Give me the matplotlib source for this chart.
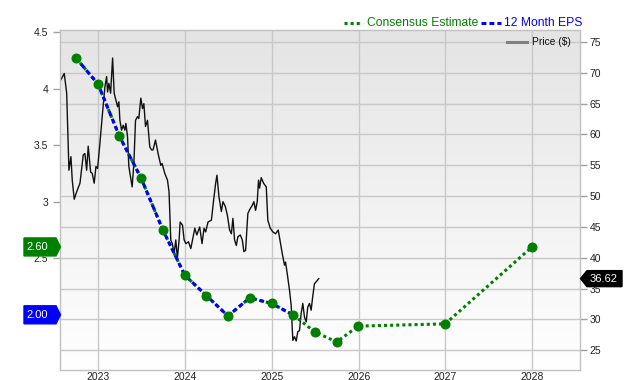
import numpy as np
import pandas as pd
import matplotlib
matplotlib.use("Agg")
import matplotlib.pyplot as plt
from matplotlib.patches import Polygon
from matplotlib.lines import Line2D

plt.rcParams['font.family'] = ['Liberation Sans', 'DejaVu Sans']

# ---------------- data ----------------
eps_dates = ['2022-09-30', '2022-12-31', '2023-03-31', '2023-06-30', '2023-09-30',
             '2023-12-31', '2024-03-31', '2024-06-30', '2024-09-30', '2024-12-31',
             '2025-03-31']
eps_values = [4.27, 4.04, 3.58, 3.21, 2.75, 2.35, 2.17, 1.99, 2.15, 2.10, 2.00]

est_dates = ['2025-06-30', '2025-09-30', '2025-12-31', '2026-12-31', '2027-12-31']
est_values = [1.85, 1.76, 1.90, 1.92, 2.60]

price_years = [2022.571, 2022.609, 2022.637, 2022.663, 2022.686, 2022.701, 2022.724,
               2022.752, 2022.790, 2022.828, 2022.847, 2022.867, 2022.885, 2022.913,
               2022.931, 2022.954, 2022.974, 2022.993, 2023.020, 2023.046, 2023.077,
               2023.097, 2023.108, 2023.123, 2023.143, 2023.166, 2023.184, 2023.204,
               2023.223, 2023.238, 2023.250, 2023.269, 2023.288, 2023.307, 2023.319,
               2023.338, 2023.353, 2023.373, 2023.391, 2023.411, 2023.430, 2023.453,
               2023.468, 2023.491, 2023.511, 2023.526, 2023.545, 2023.568, 2023.594,
               2023.614, 2023.632, 2023.660, 2023.690, 2023.721, 2023.736, 2023.767,
               2023.798, 2023.816, 2023.830, 2023.836, 2023.854, 2023.874, 2023.894,
               2023.912, 2023.932, 2023.944, 2023.971, 2023.990, 2024.010, 2024.040,
               2024.067, 2024.086, 2024.113, 2024.136, 2024.169, 2024.196, 2024.219,
               2024.238, 2024.265, 2024.304, 2024.330, 2024.353, 2024.368, 2024.391,
               2024.419, 2024.437, 2024.465, 2024.488, 2024.514, 2024.534, 2024.552,
               2024.571, 2024.591, 2024.609, 2024.637, 2024.660, 2024.678, 2024.698,
               2024.724, 2024.752, 2024.775, 2024.793, 2024.813, 2024.832, 2024.847,
               2024.859, 2024.878, 2024.905, 2024.936, 2024.954, 2024.982, 2025.012,
               2025.043, 2025.074, 2025.097, 2025.120, 2025.146, 2025.158, 2025.177,
               2025.204, 2025.223, 2025.242, 2025.261, 2025.281, 2025.299, 2025.319,
               2025.338, 2025.357, 2025.376, 2025.396, 2025.414, 2025.434, 2025.453,
               2025.471, 2025.491, 2025.511, 2025.540]
price_values = [68.9, 69.9, 66.7, 54.2, 56.4, 52.6, 49.5,
                50.7, 52.1, 56.7, 56.9, 54.2, 58.1, 53.9,
                53.7, 52.1, 54.8, 54.5, 58.6, 62.9, 67.7,
                69.4, 66.9, 68.3, 66.7, 72.4, 66.7, 65.6,
                64.5, 65.3, 62.3, 60.7, 61.5, 60.7, 61.8,
                59.6, 54.8, 53.1, 51.5, 55.3, 62.3, 62.9,
                62.6, 65.9, 64.2, 65.0, 61.3, 62.3, 58.0,
                57.5, 57.5, 59.1, 56.9, 55.0, 55.3, 53.7,
                52.6, 50.7, 45.5, 42.9, 42.3, 40.7, 42.9,
                39.9, 42.9, 45.8, 45.3, 42.9, 42.3, 42.6,
                41.5, 42.9, 44.8, 43.7, 45.0, 42.3, 44.8,
                44.2, 45.8, 46.1, 49.4, 52.1, 53.4, 49.9,
                47.5, 49.1, 48.3, 46.9, 44.5, 43.9, 46.4,
                42.9, 42.0, 43.4, 43.7, 42.9, 41.0, 41.2,
                47.2, 48.0, 48.5, 49.1, 47.7, 49.1, 52.6,
                51.3, 53.0, 52.1, 51.5, 46.1, 44.8, 44.2,
                43.9, 44.5, 42.6, 40.7, 38.8, 39.3, 37.5,
                34.7, 32.3, 26.6, 27.2, 26.5, 28.0, 28.2,
                31.0, 32.6, 30.4, 29.6, 32.0, 32.6, 31.5,
                33.7, 35.8, 36.1, 36.62]

x_ticks = [2023, 2024, 2025, 2026, 2027, 2028]
x_ticklabels = ['2023', '2024', '2025', '2026', '2027', '2028']
eps_ticks = [2.0, 2.5, 3.0, 3.5, 4.0, 4.5]
eps_ticklabels = ['2', '2.5', '3', '3.5', '4', '4.5']
price_ticks = [25, 30, 35, 40, 45, 50, 55, 60, 65, 70, 75]
price_ticklabels = ['25', '30', '35', '40', '45', '50', '55', '60', '65', '70', '75']

last_eps_label = '2.00'
last_est_label = '2.60'
last_price_label = '36.62'


def to_year(s):
    ts = pd.Timestamp(s)
    start = pd.Timestamp(year=ts.year, month=1, day=1)
    end = pd.Timestamp(year=ts.year + 1, month=1, day=1)
    return ts.year + (ts - start) / (end - start)


eps_x = [to_year(d) for d in eps_dates]
est_x = [to_year(d) for d in est_dates]

# ---------------- figure ----------------
W, H = 640, 380
fig = plt.figure(figsize=(W / 100, H / 100), dpi=100)
pos = [60 / W, 10 / H, 520 / W, 340 / H]

XLIM = (2022.56, 2028.55)
EPS_LIM = (1.512, 4.518)
PRICE_LIM = (21.8, 76.95)

GREEN = '#008000'
BLUE = '#0000ff'
GRID = '#c8c8c8'
TXT = '#222222'

# background with gradient and grid
bg = fig.add_axes(pos, zorder=0)
grad = np.linspace(0, 1, 256).reshape(-1, 1)
bg.imshow(grad, extent=[0, 1, 0, 1], transform=bg.transAxes, aspect='auto',
          cmap=matplotlib.colors.LinearSegmentedColormap.from_list(
              'g', ['#ffffff', '#e4e4e4']), origin='lower', zorder=0)
bg.set_xlim(*XLIM)
bg.set_ylim(*PRICE_LIM)
bg.set_xticks(x_ticks)
bg.set_yticks(price_ticks)
bg.grid(True, color=GRID, lw=1.0)
bg.tick_params(length=0, labelbottom=False, labelleft=False)
for s in bg.spines.values():
    s.set_visible(False)

# price axes (right)
ax2 = fig.add_axes(pos, zorder=1)
ax2.patch.set_visible(False)
ax2.plot(price_years, price_values, color='#111111', lw=1.0)
ax2.set_xlim(*XLIM)
ax2.set_ylim(*PRICE_LIM)
ax2.yaxis.tick_right()
ax2.set_yticks(price_ticks)
ax2.set_yticklabels(price_ticklabels)
ax2.tick_params(axis='y', length=5, width=1, color='#a0a0a0', pad=2,
                labelsize=7.5, labelcolor=TXT)
ax2.xaxis.set_visible(False)
for s in ax2.spines.values():
    s.set_visible(False)

# EPS axes (left)
ax = fig.add_axes(pos, zorder=2)
ax.patch.set_visible(False)
all_x = eps_x + est_x
all_v = eps_values + est_values
ax.plot(all_x, all_v, color=GREEN, lw=2.2, dashes=(1, 1), zorder=2)
ax.plot(eps_x, eps_values, color=BLUE, lw=2.2, dashes=(1.6, 1.0), zorder=3)
ax.plot(all_x, all_v, ls='none', marker='o', ms=6.2, color=GREEN,
        markeredgecolor=GREEN, zorder=4)
ax.set_xlim(*XLIM)
ax.set_ylim(*EPS_LIM)
ax.set_xticks(x_ticks)
ax.set_xticklabels(x_ticklabels)
ax.set_yticks(eps_ticks)
ax.set_yticklabels(eps_ticklabels)
ax.tick_params(axis='y', length=5, width=1, color='#a0a0a0', pad=3.5,
               labelsize=7.5, labelcolor=TXT)
ax.tick_params(axis='x', length=0, pad=1.5, labelsize=7.5, labelcolor=TXT)
for s in ax.spines.values():
    s.set_color('#c0c0c0')
    s.set_linewidth(1.0)


# ---------------- badges ----------------
def fx(px):
    return px / W


def fy(py):
    return py / H


def badge_left(yval, text, color):
    yc = ax.transData.transform((XLIM[0], yval))[1]
    pts = [(24, yc - 9), (56, yc - 9), (60.5, yc), (56, yc + 9), (24, yc + 9)]
    fig.add_artist(Polygon([(fx(a), fy(b)) for a, b in pts], closed=True,
                           transform=fig.transFigure, facecolor=color,
                           edgecolor=color, zorder=10))
    fig.text(fx(26.5), fy(yc), text, color='white', fontsize=8,
             ha='left', va='center', zorder=11)


def badge_right(yval, text, color):
    yc = ax2.transData.transform((XLIM[1], yval))[1]
    pts = [(580.5, yc), (587, yc - 8), (622, yc - 8), (622, yc + 8), (587, yc + 8)]
    fig.add_artist(Polygon([(fx(a), fy(b)) for a, b in pts], closed=True,
                           transform=fig.transFigure, facecolor=color,
                           edgecolor=color, zorder=10))
    fig.text(fx(603.5), fy(yc), text, color='white', fontsize=8,
             ha='center', va='center', zorder=11)


badge_left(est_values[-1], last_est_label, GREEN)
badge_left(eps_values[-1], last_eps_label, BLUE)
badge_right(price_values[-1], last_price_label, '#000000')

# ---------------- legend ----------------
ly = H - 23
fig.add_artist(Line2D([fx(344), fx(362)], [fy(ly), fy(ly)], transform=fig.transFigure,
                      color=GREEN, lw=2.2, dashes=(1, 1)))
fig.text(fx(367), fy(ly), 'Consensus Estimate', color=GREEN, fontsize=8.7,
         ha='left', va='center')
fig.add_artist(Line2D([fx(481), fx(501)], [fy(ly), fy(ly)], transform=fig.transFigure,
                      color=BLUE, lw=2.2, dashes=(1.6, 1.0)))
fig.text(fx(504.5), fy(ly), '12 Month EPS', color=BLUE, fontsize=8.7,
         ha='left', va='center')

py_ = H - 42
fig.add_artist(Line2D([fx(507), fx(527)], [fy(py_), fy(py_)], transform=fig.transFigure,
                      color='#808080', lw=2.2, zorder=12))
fig.text(fx(532), fy(py_), 'Price ($)', color='#111111', fontsize=7.4,
         ha='left', va='center', zorder=12)

fig.savefig('out.png', dpi=100)
